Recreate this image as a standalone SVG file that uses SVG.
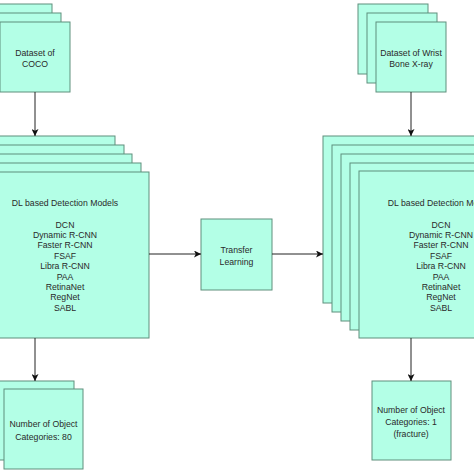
<svg xmlns="http://www.w3.org/2000/svg" width="474" height="474" viewBox="0 0 474 474">
<defs>
<style>
.box{fill:#b3ffe6;stroke:#5f8f7d;stroke-width:1}
.t{font-family:"Liberation Sans",Arial,sans-serif;font-size:8.7px;fill:#2a2a2a;text-anchor:middle}
.c{stroke:#222;stroke-width:1;fill:none;marker-end:url(#ah)}
</style>
<marker id="ah" viewBox="0 0 10 10" refX="10" refY="5" markerWidth="7" markerHeight="7" markerUnits="userSpaceOnUse" orient="auto">
<path d="M0,0 L10,5 L0,10 L2.5,5 Z" fill="#111"/>
</marker>
</defs>
<rect width="474" height="474" fill="#ffffff"/>

<g id="dataset-coco">
<rect class="box" x="-18" y="4" width="70" height="70"/>
<rect class="box" x="-9" y="13" width="70" height="70"/>
<rect class="box" x="0" y="22" width="70" height="70"/>
<text class="t" x="35" y="56">Dataset of</text>
<text class="t" x="35" y="67">COCO</text>
</g>

<g id="dataset-wrist">
<rect class="box" x="358" y="4" width="70" height="70"/>
<rect class="box" x="367" y="13" width="70" height="70"/>
<rect class="box" x="376" y="22" width="70" height="70"/>
<text class="t" x="411" y="56">Dataset of Wrist</text>
<text class="t" x="411" y="67">Bone X-ray</text>
</g>

<g id="models-left">
<rect class="box" x="-52" y="136" width="167" height="167"/>
<rect class="box" x="-43" y="145" width="167" height="167"/>
<rect class="box" x="-35" y="154" width="167" height="167"/>
<rect class="box" x="-26" y="163" width="167" height="167"/>
<rect class="box" x="-18" y="172" width="167" height="166"/>
<text class="t" x="65" y="206">DL based Detection Models</text>
<text class="t" x="65" y="227.5">DCN</text>
<text class="t" x="65" y="237.9">Dynamic R-CNN</text>
<text class="t" x="65" y="248.3">Faster R-CNN</text>
<text class="t" x="65" y="258.7">FSAF</text>
<text class="t" x="65" y="269.1">Libra R-CNN</text>
<text class="t" x="65" y="279.5">PAA</text>
<text class="t" x="65" y="289.9">RetinaNet</text>
<text class="t" x="65" y="300.3">RegNet</text>
<text class="t" x="65" y="310.7">SABL</text>
</g>

<g id="models-right">
<rect class="box" x="323" y="136" width="167" height="167"/>
<rect class="box" x="332" y="145" width="167" height="167"/>
<rect class="box" x="341" y="154" width="167" height="167"/>
<rect class="box" x="350" y="163" width="167" height="167"/>
<rect class="box" x="359" y="171" width="167" height="167"/>
<text class="t" x="441" y="206">DL based Detection Models</text>
<text class="t" x="441" y="227.5">DCN</text>
<text class="t" x="441" y="237.9">Dynamic R-CNN</text>
<text class="t" x="441" y="248.3">Faster R-CNN</text>
<text class="t" x="441" y="258.7">FSAF</text>
<text class="t" x="441" y="269.1">Libra R-CNN</text>
<text class="t" x="441" y="279.5">PAA</text>
<text class="t" x="441" y="289.9">RetinaNet</text>
<text class="t" x="441" y="300.3">RegNet</text>
<text class="t" x="441" y="310.7">SABL</text>
</g>

<g id="transfer-learning">
<rect class="box" x="201" y="219" width="71" height="71"/>
<text class="t" x="236.5" y="253">Transfer</text>
<text class="t" x="236.5" y="265">Learning</text>
</g>

<g id="categories-left">
<rect class="box" x="-5" y="381" width="79" height="79"/>
<rect class="box" x="4" y="389" width="79" height="80"/>
<text class="t" x="43.5" y="427">Number of Object</text>
<text class="t" x="43.5" y="439.5">Categories: 80</text>
</g>

<g id="categories-right">
<rect class="box" x="372" y="381" width="79" height="79"/>
<text class="t" x="411" y="413">Number of Object</text>
<text class="t" x="411" y="425">Categories: 1</text>
<text class="t" x="411" y="437">(fracture)</text>
</g>

<g id="connectors">
<path class="c" d="M35,92 V136"/>
<path class="c" d="M411,92 V136"/>
<path class="c" d="M35,338 V381"/>
<path class="c" d="M411,338 V381"/>
<path class="c" d="M149,254 H201"/>
<path class="c" d="M272,254 H323"/>
</g>
</svg>
